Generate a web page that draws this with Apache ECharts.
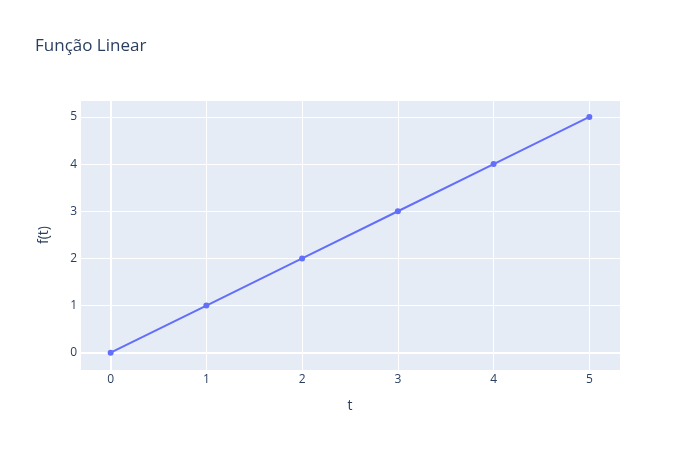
<!DOCTYPE html>
<html>
<head>
<meta charset="utf-8">
<script src="https://cdn.jsdelivr.net/npm/echarts@6/dist/echarts.min.js"></script>
<style>html,body{margin:0;padding:0;background:#fff}#c{width:700px;height:450px}</style>
</head>
<body>
<div id="c"></div>
<script>
const tValues = [0, 1, 2, 3, 4, 5];
const fValues = [0, 1, 2, 3, 4, 5];
const titleText = 'Função Linear';
const xTitle = 't';
const yTitle = 'f(t)';

const FONT = '"Open Sans", "Noto Sans", sans-serif';
const TXT = '#2a3f5f';
const chart = echarts.init(document.getElementById('c'), null, {renderer: 'canvas'});
const isInt = v => Math.abs(v - Math.round(v)) < 1e-9;
chart.setOption({
  animation: false,
  title: {
    text: titleText, left: 30, top: 33,
    textStyle: {fontFamily: FONT, fontSize: 17, fontWeight: 'normal', color: TXT}
  },
  grid: {
    left: 80, right: 80, top: 100, bottom: 80,
    show: true, backgroundColor: '#E5ECF6', borderWidth: 0
  },
  xAxis: {
    type: 'value', min: -0.32, max: 5.32,
    name: xTitle, nameLocation: 'middle', nameGap: 29,
    nameTextStyle: {fontFamily: FONT, fontSize: 14, color: TXT},
    axisLine: {show: false}, axisTick: {show: false},
    axisLabel: {fontFamily: FONT, fontSize: 12, color: TXT, margin: 4,
      showMinLabel: false, showMaxLabel: false,
      formatter: v => isInt(v) ? String(v) : ''},
    splitLine: {show: true, lineStyle: {color: '#ffffff', width: 1}}
  },
  yAxis: {
    type: 'value', min: -0.367, max: 5.36,
    name: yTitle, nameLocation: 'middle', nameGap: 29, nameRotate: 90,
    nameTextStyle: {fontFamily: FONT, fontSize: 14, color: TXT},
    axisLine: {show: false}, axisTick: {show: false},
    axisLabel: {fontFamily: FONT, fontSize: 12, color: TXT, margin: 3,
      showMinLabel: false, showMaxLabel: false,
      formatter: v => isInt(v) ? String(v) : ''},
    splitLine: {show: true, lineStyle: {color: '#ffffff', width: 1}}
  },
  series: [
    {
      type: 'line',
      data: tValues.map((t, i) => [t, fValues[i]]),
      symbol: 'circle', symbolSize: 6,
      lineStyle: {color: '#636EFA', width: 2},
      itemStyle: {color: '#636EFA'},
      markLine: {
        silent: true, symbol: 'none', label: {show: false},
        lineStyle: {color: '#ffffff', width: 2, type: 'solid'},
        data: [{xAxis: 0}, {yAxis: 0}],
        z: 1
      },
      z: 3
    }
  ]
});
</script>
</body>
</html>
